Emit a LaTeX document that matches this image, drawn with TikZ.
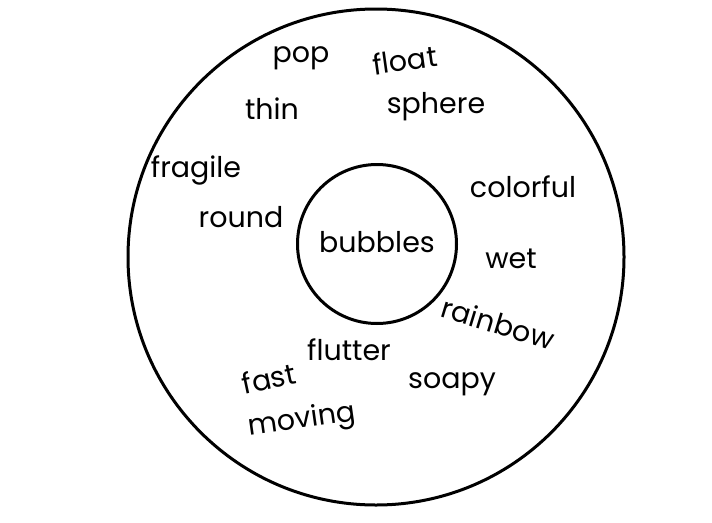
\documentclass[tikz,border=0pt]{standalone}
\usepackage{fontspec}
\setmainfont{Poppins}
\begin{document}
\begin{tikzpicture}[x=1pt,y=-1pt,w/.style={font=\fontsize{28.5}{30}\selectfont,inner sep=0pt}]
\useasboundingbox (0,0) rectangle (712,522);
\node[circle,draw,line width=3pt,minimum size=496pt,inner sep=0pt] (outer) at (376,257) {};
\node[circle,draw,line width=3pt,minimum size=159pt,inner sep=0pt] (inner) at (377,244) {};
\node[w] (bubbles) at (377,242) {bubbles};
\node[w] (pop) at (301,58) {pop};
\node[w,rotate=8] (float) at (405,60) {float};
\node[w] (thin) at (272,109) {thin};
\node[w] (sphere) at (436,107) {sphere};
\node[w] (fragile) at (196,170) {fragile};
\node[w] (colorful) at (523,187) {colorful};
\node[w] (round) at (241,217) {round};
\node[w] (wet) at (511,259) {wet};
\node[w,rotate=-17] (rainbow) at (498,323) {rainbow};
\node[w] (flutter) at (349,350) {flutter};
\node[w,rotate=12] (fast) at (269,378) {fast};
\node[w] (soapy) at (452,384) {soapy};
\node[w,rotate=8] (moving) at (302,421) {moving};
\end{tikzpicture}
\end{document}
